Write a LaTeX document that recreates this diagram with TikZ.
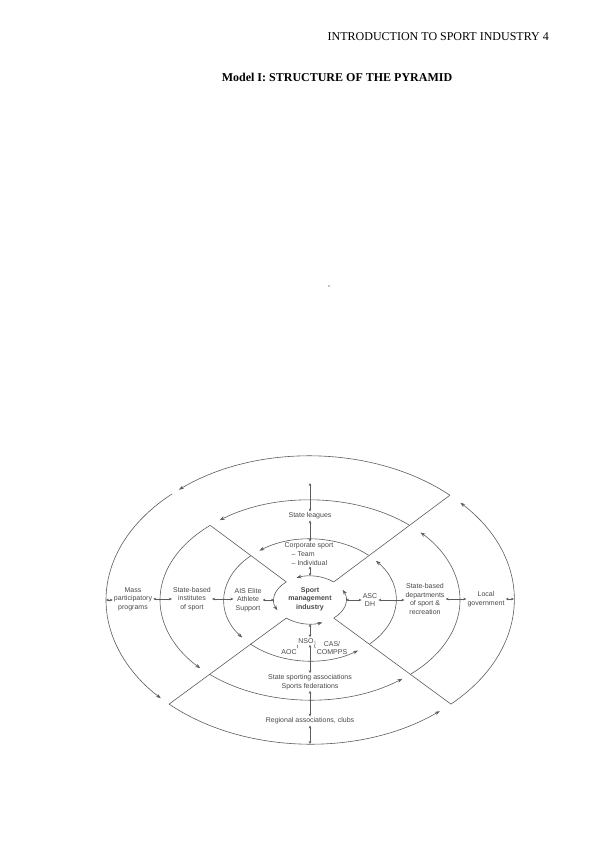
\documentclass[tikz,border=0pt]{standalone}
\usepackage{fontspec}
\setmainfont{Liberation Serif}
\newfontfamily\dsf{Liberation Sans}
\usetikzlibrary{arrows.meta}
\definecolor{ln}{HTML}{5C5C5C}
\definecolor{tx}{HTML}{484848}
\begin{document}
\begin{tikzpicture}[x=1pt,y=-1pt,
  ring/.style={draw=ln, line width=0.6pt, -{Stealth[length=5pt,width=3.6pt]}},
  divider/.style={draw=ln, line width=0.6pt},
  link/.style={draw=ln, line width=0.45pt, {Stealth[length=3pt,width=2.6pt]}-{Stealth[length=3pt,width=2.6pt]}},
  tie/.style={draw=ln, line width=0.45pt},
  lbl/.style={text=tx, font=\dsf\fontsize{7}{8.6}\selectfont, align=center, inner sep=1pt},
]
\useasboundingbox (0,0) rectangle (596,842);

% header
\node[anchor=base east, inner sep=0pt, font=\fontsize{12}{14}\selectfont] (hdr) at (549,41) {INTRODUCTION TO SPORT INDUSTRY 4};
\node[anchor=base, inner sep=0pt, font=\bfseries\fontsize{12}{14}\selectfont] (ttl) at (337,82) {Model I: STRUCTURE OF THE PYRAMID};
\node[circle, fill=black, inner sep=0.45pt] (dot) at (329,286) {};

\begin{scope}[shift={(310,600)}]
  % key points
  \coordinate (urO) at (-46.7:204 and 144);
  \coordinate (urI) at (-48.8:36 and 24);
  \coordinate (ulR) at (-131.7:150 and 100);
  \coordinate (ulI) at (-131.2:36 and 24);
  \coordinate (llO) at (-226.3:204 and 144);
  \coordinate (llI) at (-228.8:36 and 24);
  \coordinate (lrO) at (46.3:204 and 144);
  \coordinate (lrI) at (48.8:36 and 24);
  \coordinate (inT) at (-90:36 and 24);
  \coordinate (inB) at (90:36 and 24);
  \coordinate (inL) at (180:36 and 24);
  \coordinate (inR) at (0:36 and 24);
  \coordinate (outL) at (180:204 and 144);
  \coordinate (outR) at (0:204 and 144);
  \coordinate (outB) at (90:204 and 144);
  \coordinate (topend) at (0,-117);

  % dividers
  \draw[divider] (urO) -- (urI);
  \draw[divider] (ulR) -- (ulI);
  \draw[divider] (llO) -- (llI);
  \draw[divider] (lrO) -- (lrI);

  % outer ring
  \draw[ring] (-46.7:204 and 144) arc[start angle=-46.7, end angle=-130, x radius=204, y radius=144];
  \draw[ring] (-132.5:204 and 144) arc[start angle=-132.5, end angle=-223, x radius=204, y radius=144];
  \draw[ring] (-226.3:204 and 144) arc[start angle=-226.3, end angle=-309.5, x radius=204, y radius=144];
  \draw[ring] (46.3:204 and 144) arc[start angle=46.3, end angle=-42.5, x radius=204, y radius=144];

  % ring 2
  \draw[ring] (-48.8:150 and 100) arc[start angle=-48.8, end angle=-127, x radius=150, y radius=100];
  \draw[ring] (-131.7:150 and 100) arc[start angle=-131.7, end angle=-223, x radius=150, y radius=100];
  \draw[ring] (-227.8:150 and 100) arc[start angle=-227.8, end angle=-308, x radius=150, y radius=100];
  \draw[ring] (47.8:150 and 100) arc[start angle=47.8, end angle=-42.5, x radius=150, y radius=100];

  % ring 1
  \draw[ring] (-47:86 and 61) arc[start angle=-47, end angle=-126, x radius=86, y radius=61];
  \draw[ring] (-133.7:86 and 61) arc[start angle=-133.7, end angle=-218, x radius=86, y radius=61];
  \draw[ring] (-225.9:86 and 61) arc[start angle=-225.9, end angle=-304, x radius=86, y radius=61];
  \draw[ring] (45.9:86 and 61) arc[start angle=45.9, end angle=-40, x radius=86, y radius=61];

  % inner
  \draw[ring] (-48.8:36 and 24) arc[start angle=-48.8, end angle=-112, x radius=36, y radius=24];
  \draw[ring] (-131.2:36 and 24) arc[start angle=-131.2, end angle=-205, x radius=36, y radius=24];
  \draw[ring] (-228.8:36 and 24) arc[start angle=-228.8, end angle=-290, x radius=36, y radius=24];
  \draw[ring] (48.8:36 and 24) arc[start angle=48.8, end angle=-25, x radius=36, y radius=24];
\end{scope}

% labels
\node[lbl] (sl) at (310,516) {State leagues};
\node[lbl, align=left] (cs) at (309,554) {Corporate sport\\\hspace*{7pt}– Team\\\hspace*{7pt}– Individual};
\node[lbl, font=\dsf\bfseries\fontsize{7}{8.6}\selectfont] (smi) at (310,599) {Sport\\management\\industry};
\node[lbl] (ais) at (248,600) {AIS Elite\\Athlete\\Support};
\node[lbl] (asc) at (370,600) {ASC\\DH};
\node[lbl] (sbd) at (425,599) {State-based\\departments\\of sport \&\\recreation};
\node[lbl] (lg) at (486,599) {Local\\government};
\node[lbl] (mpp) at (133,599) {Mass\\participatory\\programs};
\node[lbl] (sbi) at (192,599) {State-based\\institutes\\of sport};
\node[lbl] (nso) at (306,641) {NSO};
\node[lbl] (aoc) at (289,652) {AOC};
\node[lbl] (cas) at (332,648) {CAS/\\COMPPS};
\node[lbl] (ssa) at (310,682) {State sporting associations\\Sports federations};
\node[lbl] (rac) at (310,721) {Regional associations, clubs};

% vertical links
\draw[link] (topend) -- (sl.north);
\draw[link] (sl.south) -- (sl.south |- cs.north);
\draw[link] (cs.south -| inT) -- (inT);
\draw[link] (inB) -- (inB |- nso.north);
\draw[link] (nso.south -| inB) -- (inB |- ssa.north);
\draw[link] (ssa.south) -- (rac.north);
\draw[link] (rac.south) -- (outB);

% horizontal links
\draw[link] (outL) -- (outL -| mpp.west);
\draw[link] (mpp.east) -- (mpp.east -| sbi.west);
\draw[link] (sbi.east) -- (sbi.east -| ais.west);
\draw[link] (ais.east) -- (inL);
\draw[link] (inR) -- (inR -| asc.west);
\draw[link] (asc.east) -- (asc.east -| sbd.west);
\draw[link] (sbd.east) -- (sbd.east -| lg.west);
\draw[link] (lg.east) -- (lg.east -| outR);

% NSO ties
\draw[tie] (aoc.north east) -- (nso.south west);
\draw[tie] (nso.east) to[out=-60, in=180] (cas.west);
\end{tikzpicture}
\end{document}
